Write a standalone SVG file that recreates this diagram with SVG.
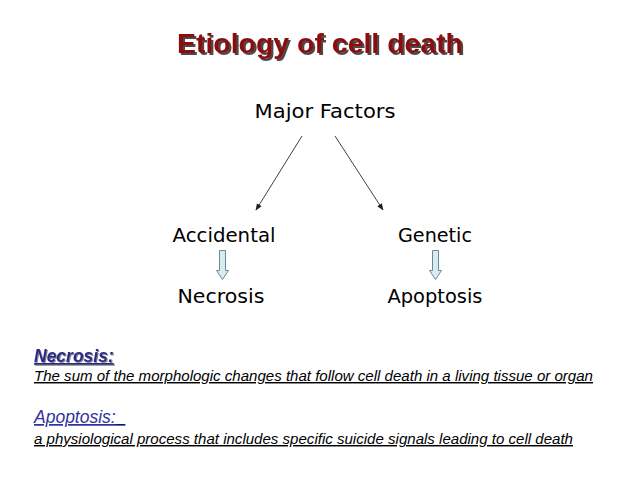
<svg xmlns="http://www.w3.org/2000/svg" width="638" height="478" viewBox="0 0 638 478">
<defs>
<style>
.title{font-family:"Liberation Sans",Arial,sans-serif;font-weight:bold;font-size:28px;fill:#8b0a10;}
.comic{font-family:"DejaVu Sans","Noto Sans",sans-serif;font-size:19px;fill:#000;}
.head{font-family:"Liberation Sans",Arial,sans-serif;font-style:italic;font-size:17.5px;text-decoration:underline;}
.body{font-family:"Liberation Sans",Arial,sans-serif;font-style:italic;font-size:14.5px;fill:#000;text-decoration:underline;}
.conn{stroke:#404040;stroke-width:1;fill:none;marker-end:url(#ah);}
.block{fill:#d6ecef;stroke:#6b8a96;stroke-width:1;}
</style>
<filter id="sh" x="-5%" y="-20%" width="110%" height="150%">
<feOffset in="SourceAlpha" dx="2" dy="2" result="o"/>
<feFlood flood-color="#4a4a4a"/>
<feComposite in2="o" operator="in" result="s"/>
<feMerge><feMergeNode in="s"/><feMergeNode in="SourceGraphic"/></feMerge>
</filter>
<filter id="sh2" x="-5%" y="-20%" width="110%" height="150%">
<feOffset in="SourceAlpha" dx="1.2" dy="1.2" result="o"/>
<feFlood flood-color="#888"/>
<feComposite in2="o" operator="in" result="s"/>
<feMerge><feMergeNode in="s"/><feMergeNode in="SourceGraphic"/></feMerge>
</filter>
<marker id="ah" viewBox="0 0 10 10" refX="9" refY="5" markerWidth="7" markerHeight="7" orient="auto" markerUnits="userSpaceOnUse">
<path d="M0,1 L10,5 L0,9 z" fill="#202020"/>
</marker>
</defs>
<rect width="638" height="478" fill="#fff"/>
<g id="title">
<text class="title" x="320" y="53" text-anchor="middle" textLength="286" lengthAdjust="spacingAndGlyphs" filter="url(#sh)">Etiology of cell death</text>
</g>
<g id="major">
<text class="comic" x="325" y="118" text-anchor="middle" textLength="141" lengthAdjust="spacingAndGlyphs">Major Factors</text>
</g>
<g id="accidental">
<text class="comic" x="224" y="242" text-anchor="middle" textLength="103" lengthAdjust="spacingAndGlyphs">Accidental</text>
</g>
<g id="genetic">
<text class="comic" x="435" y="242" text-anchor="middle" textLength="74" lengthAdjust="spacingAndGlyphs">Genetic</text>
</g>
<g id="necrosis">
<text class="comic" x="221" y="303" text-anchor="middle" textLength="87" lengthAdjust="spacingAndGlyphs">Necrosis</text>
</g>
<g id="apoptosis">
<text class="comic" x="435" y="303" text-anchor="middle" textLength="95" lengthAdjust="spacingAndGlyphs">Apoptosis</text>
</g>
<g id="connectors">
<line class="conn" x1="302" y1="136" x2="256" y2="210"/>
<line class="conn" x1="335" y1="136" x2="383" y2="210"/>
<path class="block" d="M219.5,250.5 h6 v20 h3 l-6,9 l-6,-9 h3 z"/>
<path class="block" d="M432.5,250.5 h6 v20 h3 l-6,9 l-6,-9 h3 z"/>
</g>
<g id="defs-text">
<text class="head" x="34" y="362" fill="#2a2a8a" font-weight="bold" filter="url(#sh2)">Necrosis: </text>
<text class="body" x="34" y="381" textLength="559" lengthAdjust="spacingAndGlyphs">The sum of the morphologic changes that follow cell death in a living tissue or organ</text>
<text class="head" x="34" y="423" fill="#3333a0">Apoptosis:<tspan fill="#000">_</tspan></text>
<text class="body" x="34" y="444" textLength="539" lengthAdjust="spacingAndGlyphs">a physiological process that includes specific suicide signals leading to cell death</text>
</g>
</svg>
